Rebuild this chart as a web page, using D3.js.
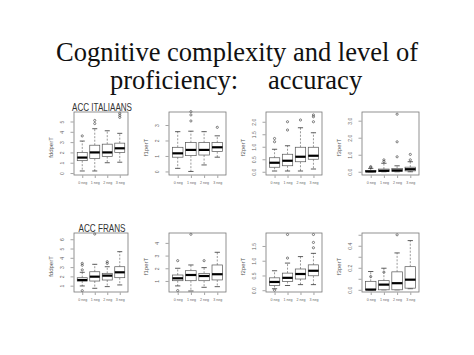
<!DOCTYPE html>
<html lang="en">
<head>
<meta charset="utf-8">
<title>Cognitive complexity and level of proficiency: accuracy</title>
<script src="https://cdn.jsdelivr.net/npm/d3@7"></script>
<style>
  body { margin: 0; background: #fff; }
  svg { display: block; }
  .slide-title { font-family: "Liberation Serif", "Times New Roman", serif; font-size: 26.5px; fill: #111; }
  .panel-title { font-family: "Liberation Sans", Arial, sans-serif; font-size: 10.5px; fill: #333; }
  .ylab { font-family: "Liberation Sans", Arial, sans-serif; font-size: 6px; fill: #555; }
  .axis text { font-family: "Liberation Sans", Arial, sans-serif; fill: #666; }
  .axis line { stroke: #666; stroke-width: 0.6; }
  .axis path { display: none; }
  .frame { fill: none; stroke: #777; stroke-width: 0.8; }
</style>
</head>
<body>
<div id="slide"></div>
<script>
// ---- data ----
var groupLabels = ["0 neg", "1 neg", "2 neg", "3 neg"];
var panelTitles = ["ACC ITALIAANS", "", "", "", "ACC FRANS", "", "", ""];
var yLabels = ["fddperT", "f1perT", "f2perT", "f3perT", "fddperT", "f1perT", "f2perT", "f3perT"];

var yDomains = [[-0.19, 5.92], [-0.23, 3.84], [-0.13, 2.39], [-0.19, 3.51],
                [0.32, 6.67], [0.13, 4.78], [-0.06, 1.94], [-0.02, 0.516]];
var yTicks = [[0, 1, 2, 3, 4, 5], [0, 1, 2, 3], [0, 0.5, 1, 1.5, 2], [0, 1, 2, 3],
              [1, 2, 3, 4, 5, 6], [1, 2, 3, 4], [0, 0.5, 1, 1.5], [0, 0.1, 0.2, 0.3, 0.4, 0.5]];
var yTickLabels = [["0", "1", "2", "3", "4", "5"], ["0", "1", "2", "3"],
                   ["0.0", "0.5", "1.0", "1.5", "2.0"], ["0.0", "1.0", "2.0", "3.0"],
                   ["1", "2", "3", "4", "5", "6"], ["1", "2", "3", "4"],
                   ["0.0", "0.5", "1.0", "1.5"], ["0.0", "", "0.2", "", "0.4", ""]];

// box stats per group: low whisker, q1, median, q3, high whisker, outliers
var itFdd = [
  {lo: 0.2, q1: 1.2, med: 1.5, q3: 2.0, hi: 3.1, out: [3.6]},
  {lo: 0.2, q1: 1.4, med: 2.0, q3: 2.7, hi: 4.3, out: [4.8, 5.1]},
  {lo: 1.0, q1: 1.6, med: 2.0, q3: 2.8, hi: 4.1, out: []},
  {lo: 1.05, q1: 2.0, med: 2.4, q3: 2.9, hi: 3.85, out: [5.4, 5.6, 5.8]}
];
var itF1 = [
  {lo: 0.2, q1: 0.92, med: 1.17, q3: 1.56, hi: 2.57, out: []},
  {lo: 0.0, q1: 1.02, med: 1.39, q3: 1.86, hi: 2.6, out: [3.26, 3.65, 3.86]},
  {lo: 0.42, q1: 1.06, med: 1.39, q3: 1.86, hi: 2.57, out: []},
  {lo: 0.92, q1: 1.28, med: 1.56, q3: 1.86, hi: 2.3, out: [2.85]}
];
var itF2 = [
  {lo: 0.03, q1: 0.18, med: 0.36, q3: 0.56, hi: 0.9, out: [1.2, 1.33]},
  {lo: 0.03, q1: 0.24, med: 0.44, q3: 0.7, hi: 1.04, out: [1.67, 2.0]},
  {lo: 0.03, q1: 0.4, med: 0.6, q3: 0.98, hi: 1.76, out: [2.07]},
  {lo: 0.11, q1: 0.5, med: 0.64, q3: 0.98, hi: 1.56, out: [2.0, 2.2, 2.27]}
];
var itF3 = [
  {lo: 0, q1: 0, med: 0.02, q3: 0.08, hi: 0.2, out: [0.25, 0.3]},
  {lo: 0, q1: 0.02, med: 0.06, q3: 0.16, hi: 0.5, out: [0.6, 0.7]},
  {lo: 0, q1: 0.02, med: 0.08, q3: 0.2, hi: 0.35, out: [0.88, 1.76, 3.38]},
  {lo: 0, q1: 0.05, med: 0.15, q3: 0.27, hi: 0.59, out: [0.7, 1.02]}
];
var frFdd = [
  {lo: 0.97, q1: 1.5, med: 1.61, q3: 1.86, hi: 2.44, out: [0.46, 2.7, 3.2, 3.4]},
  {lo: 0.72, q1: 1.5, med: 1.97, q3: 2.5, hi: 3.3, out: [6.56]},
  {lo: 0.9, q1: 1.61, med: 2.08, q3: 2.33, hi: 3.04, out: [3.4, 3.58]},
  {lo: 1.08, q1: 1.86, med: 2.44, q3: 3.04, hi: 4.66, out: []}
];
var frF1 = [
  {lo: 0.61, q1: 1.02, med: 1.21, q3: 1.47, hi: 2.0, out: [0.24, 2.6]},
  {lo: 0.21, q1: 1.02, med: 1.47, q3: 1.81, hi: 2.26, out: [4.68]},
  {lo: 0.5, q1: 1.02, med: 1.39, q3: 1.6, hi: 2.05, out: [2.6]},
  {lo: 0.55, q1: 1.08, med: 1.53, q3: 2.26, hi: 3.26, out: []}
];
var frF2 = [
  {lo: 0.05, q1: 0.16, med: 0.28, q3: 0.42, hi: 0.66, out: [0.0]},
  {lo: 0.16, q1: 0.3, med: 0.42, q3: 0.58, hi: 0.92, out: [1.09, 1.89]},
  {lo: 0.19, q1: 0.38, med: 0.55, q3: 0.72, hi: 1.14, out: []},
  {lo: 0.19, q1: 0.49, med: 0.66, q3: 0.86, hi: 1.25, out: [1.44, 1.62, 1.89]}
];
var frF3 = [
  {lo: 0, q1: 0, med: 0.002, q3: 0.077, hi: 0.166, out: [0.12]},
  {lo: 0, q1: 0, med: 0.047, q3: 0.083, hi: 0.196, out: [0.16]},
  {lo: 0, q1: 0, med: 0.06, q3: 0.163, hi: 0.335, out: [0.5]},
  {lo: 0.01, q1: 0.015, med: 0.092, q3: 0.21, hi: 0.447, out: []}
];
var panelStats = [itFdd, itF1, itF2, itF3, frFdd, frF1, frF2, frF3];

// ---- layout ----
var W = 474, H = 355;
var colX = [[74, 128], [169, 226], [266, 322], [362, 419]];
var rowY = [[112, 175], [233, 292]];

var svg = d3.select("#slide").append("svg")
    .attr("width", W)
    .attr("height", H);

// slide title
svg.append("text")
    .attr("class", "slide-title")
    .attr("x", 237)
    .attr("y", 61)
    .attr("text-anchor", "middle")
    .text("Cognitive complexity and level of");
svg.append("text")
    .attr("class", "slide-title")
    .attr("x", 110)
    .attr("y", 89)
    .text("proficiency:");
svg.append("text")
    .attr("class", "slide-title")
    .attr("x", 268)
    .attr("y", 89)
    .text("accuracy");

panelStats.forEach(function(stats, p) {
  var cx = colX[p % 4], ry = rowY[Math.floor(p / 4)];

  var x = d3.scaleLinear()
      .domain([0.34, 4.66])
      .range(cx);
  var y = d3.scaleLinear()
      .domain(yDomains[p])
      .range([ry[1], ry[0]]);

  var g = svg.append("g");

  // y axis, labels parallel to the axis like R
  var yAxis = g.append("g")
      .attr("class", "axis")
      .attr("transform", "translate(" + (cx[0] - 0.5) + ",0)")
      .call(d3.axisLeft(y)
        .tickValues(yTicks[p])
        .tickSize(3)
        .tickFormat(function(d, i) { return yTickLabels[p][i]; }));
  yAxis.selectAll("text")
      .attr("transform", "rotate(-90)")
      .attr("x", 0)
      .attr("y", -9.5)
      .attr("dy", 0)
      .attr("text-anchor", "middle")
      .style("font-size", "5px");

  // x axis
  var xAxis = g.append("g")
      .attr("class", "axis")
      .attr("transform", "translate(0," + (ry[1] + 0.5) + ")")
      .call(d3.axisBottom(x)
        .tickValues([1, 2, 3, 4])
        .tickSize(2.5)
        .tickFormat(function(d) { return groupLabels[d - 1]; }));
  xAxis.selectAll("text")
      .attr("y", 8)
      .attr("dy", 0)
      .style("font-size", "3.6px");

  var bw = (x(2) - x(1)) * 0.8;

  var grp = g.selectAll(".bp")
      .data(stats)
      .enter().append("g")
        .attr("class", "bp")
        .attr("transform", function(d, i) { return "translate(" + x(i + 1) + ",0)"; });

  // dashed whiskers
  grp.append("line")
      .attr("y1", function(d) { return y(d.q3); })
      .attr("y2", function(d) { return y(d.hi); })
      .attr("stroke", "#555").attr("stroke-width", 0.6).attr("stroke-dasharray", "2,1.5");
  grp.append("line")
      .attr("y1", function(d) { return y(d.q1); })
      .attr("y2", function(d) { return y(d.lo); })
      .attr("stroke", "#555").attr("stroke-width", 0.6).attr("stroke-dasharray", "2,1.5");
  // caps
  grp.selectAll(".cap")
      .data(function(d) { return [d.lo, d.hi]; })
      .enter().append("line")
        .attr("x1", -bw / 4).attr("x2", bw / 4)
        .attr("y1", function(v) { return y(v); })
        .attr("y2", function(v) { return y(v); })
        .attr("stroke", "#333").attr("stroke-width", 0.8);
  // box
  grp.append("rect")
      .attr("x", -bw / 2)
      .attr("width", bw)
      .attr("y", function(d) { return y(d.q3); })
      .attr("height", function(d) { return Math.max(0.5, y(d.q1) - y(d.q3)); })
      .attr("fill", "#fff")
      .attr("stroke", "#555")
      .attr("stroke-width", 0.7);
  // median
  grp.append("line")
      .attr("x1", -bw / 2).attr("x2", bw / 2)
      .attr("y1", function(d) { return y(d.med); })
      .attr("y2", function(d) { return y(d.med); })
      .attr("stroke", "#000").attr("stroke-width", 2.2);
  // outliers
  grp.selectAll(".out")
      .data(function(d) { return d.out; })
      .enter().append("circle")
        .attr("cy", function(v) { return y(v); })
        .attr("r", 1.1)
        .attr("fill", "none")
        .attr("stroke", "#333")
        .attr("stroke-width", 0.6);

  // frame
  g.append("rect")
      .attr("class", "frame")
      .attr("x", cx[0]).attr("y", ry[0])
      .attr("width", cx[1] - cx[0]).attr("height", ry[1] - ry[0]);

  // y label
  g.append("text")
      .attr("class", "ylab")
      .attr("transform", "translate(" + (cx[0] - 21) + "," + ((ry[0] + ry[1]) / 2 + 4) + ") rotate(-90)")
      .attr("text-anchor", "middle")
      .text(yLabels[p]);

  // panel title
  if (panelTitles[p]) {
    g.append("text")
        .attr("class", "panel-title")
        .attr("x", (cx[0] + cx[1]) / 2 + 1)
        .attr("y", ry[0] - 1.5)
        .attr("text-anchor", "middle")
        .attr("textLength", p === 0 ? 60 : 47)
        .attr("lengthAdjust", "spacingAndGlyphs")
        .text(panelTitles[p]);
  }
});
</script>
</body>
</html>
